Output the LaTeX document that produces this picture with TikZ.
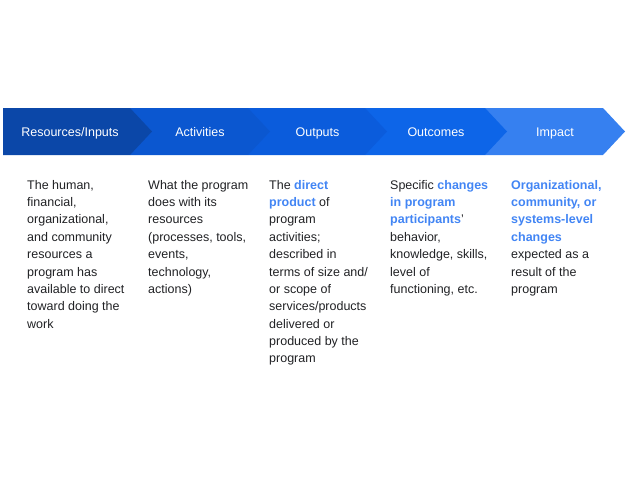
\documentclass[tikz,border=0pt]{standalone}
\usepackage{fontspec}
\setmainfont{Liberation Sans}
\definecolor{seg1}{HTML}{0B47A8}
\definecolor{seg2}{HTML}{0B57D0}
\definecolor{seg3}{HTML}{0B5CDC}
\definecolor{seg4}{HTML}{0D65E8}
\definecolor{seg5}{HTML}{3680F0}
\definecolor{hlblue}{HTML}{4285F4}
\definecolor{ink}{HTML}{202124}
\newcommand{\hlt}[1]{\textbf{\color{hlblue}#1}}

\begin{document}
\begin{tikzpicture}[x=1pt,y=-1pt,
  lbl/.style={text=white,inner sep=0pt,anchor=base,font=\fontsize{12.5}{15}\selectfont},
  desc/.style={anchor=north west,inner sep=0pt,align=left,text=ink,
    font=\fontsize{12.5}{17.35}\selectfont}]

\useasboundingbox (0,0) rectangle (640,480);

% chevron band, drawn right to left so each tip lies on the next part
\foreach \i/\a/\b in {5/485/603,4/365/485,3/248/365,2/130/248,1/3/130}
    \fill[seg\i] (\a,108) -- (\b,108) -- ({\b+22},131.5) -- (\b,155) -- (\a,155) -- cycle;

\node[lbl] (l1) at (70,136)  {Resources/Inputs};
\node[lbl] (l2) at (200,136) {Activities};
\node[lbl] (l3) at (317.5,136) {Outputs};
\node[lbl] (l4) at (436,136) {Outcomes};
\node[lbl] (l5) at (555,136) {Impact};

% descriptions
\node[desc] (d1) at (27,180) {The human,\\ financial,\\ organizational,\\ and community\\ resources a\\ program has\\ available to direct\\ toward doing the\\ work};
\node[desc] (d2) at (148,180) {What the program\\ does with its\\ resources\\ (processes, tools,\\ events,\\ technology,\\ actions)};
\node[desc] (d3) at (269,180) {The \hlt{direct}\\ \hlt{product} of\\ program\\ activities;\\ described in\\ terms of size and/\\ or scope of\\ services/products\\ delivered or\\ produced by the\\ program};
\node[desc] (d4) at (390,180) {Specific \hlt{changes}\\ \hlt{in program}\\ \hlt{participants}’\\ behavior,\\ knowledge, skills,\\ level of\\ functioning, etc.};
\node[desc] (d5) at (511,180) {\hlt{Organizational,}\\ \hlt{community, or}\\ \hlt{systems-level}\\ \hlt{changes}\\ expected as a\\ result of the\\ program};

\end{tikzpicture}
\end{document}
